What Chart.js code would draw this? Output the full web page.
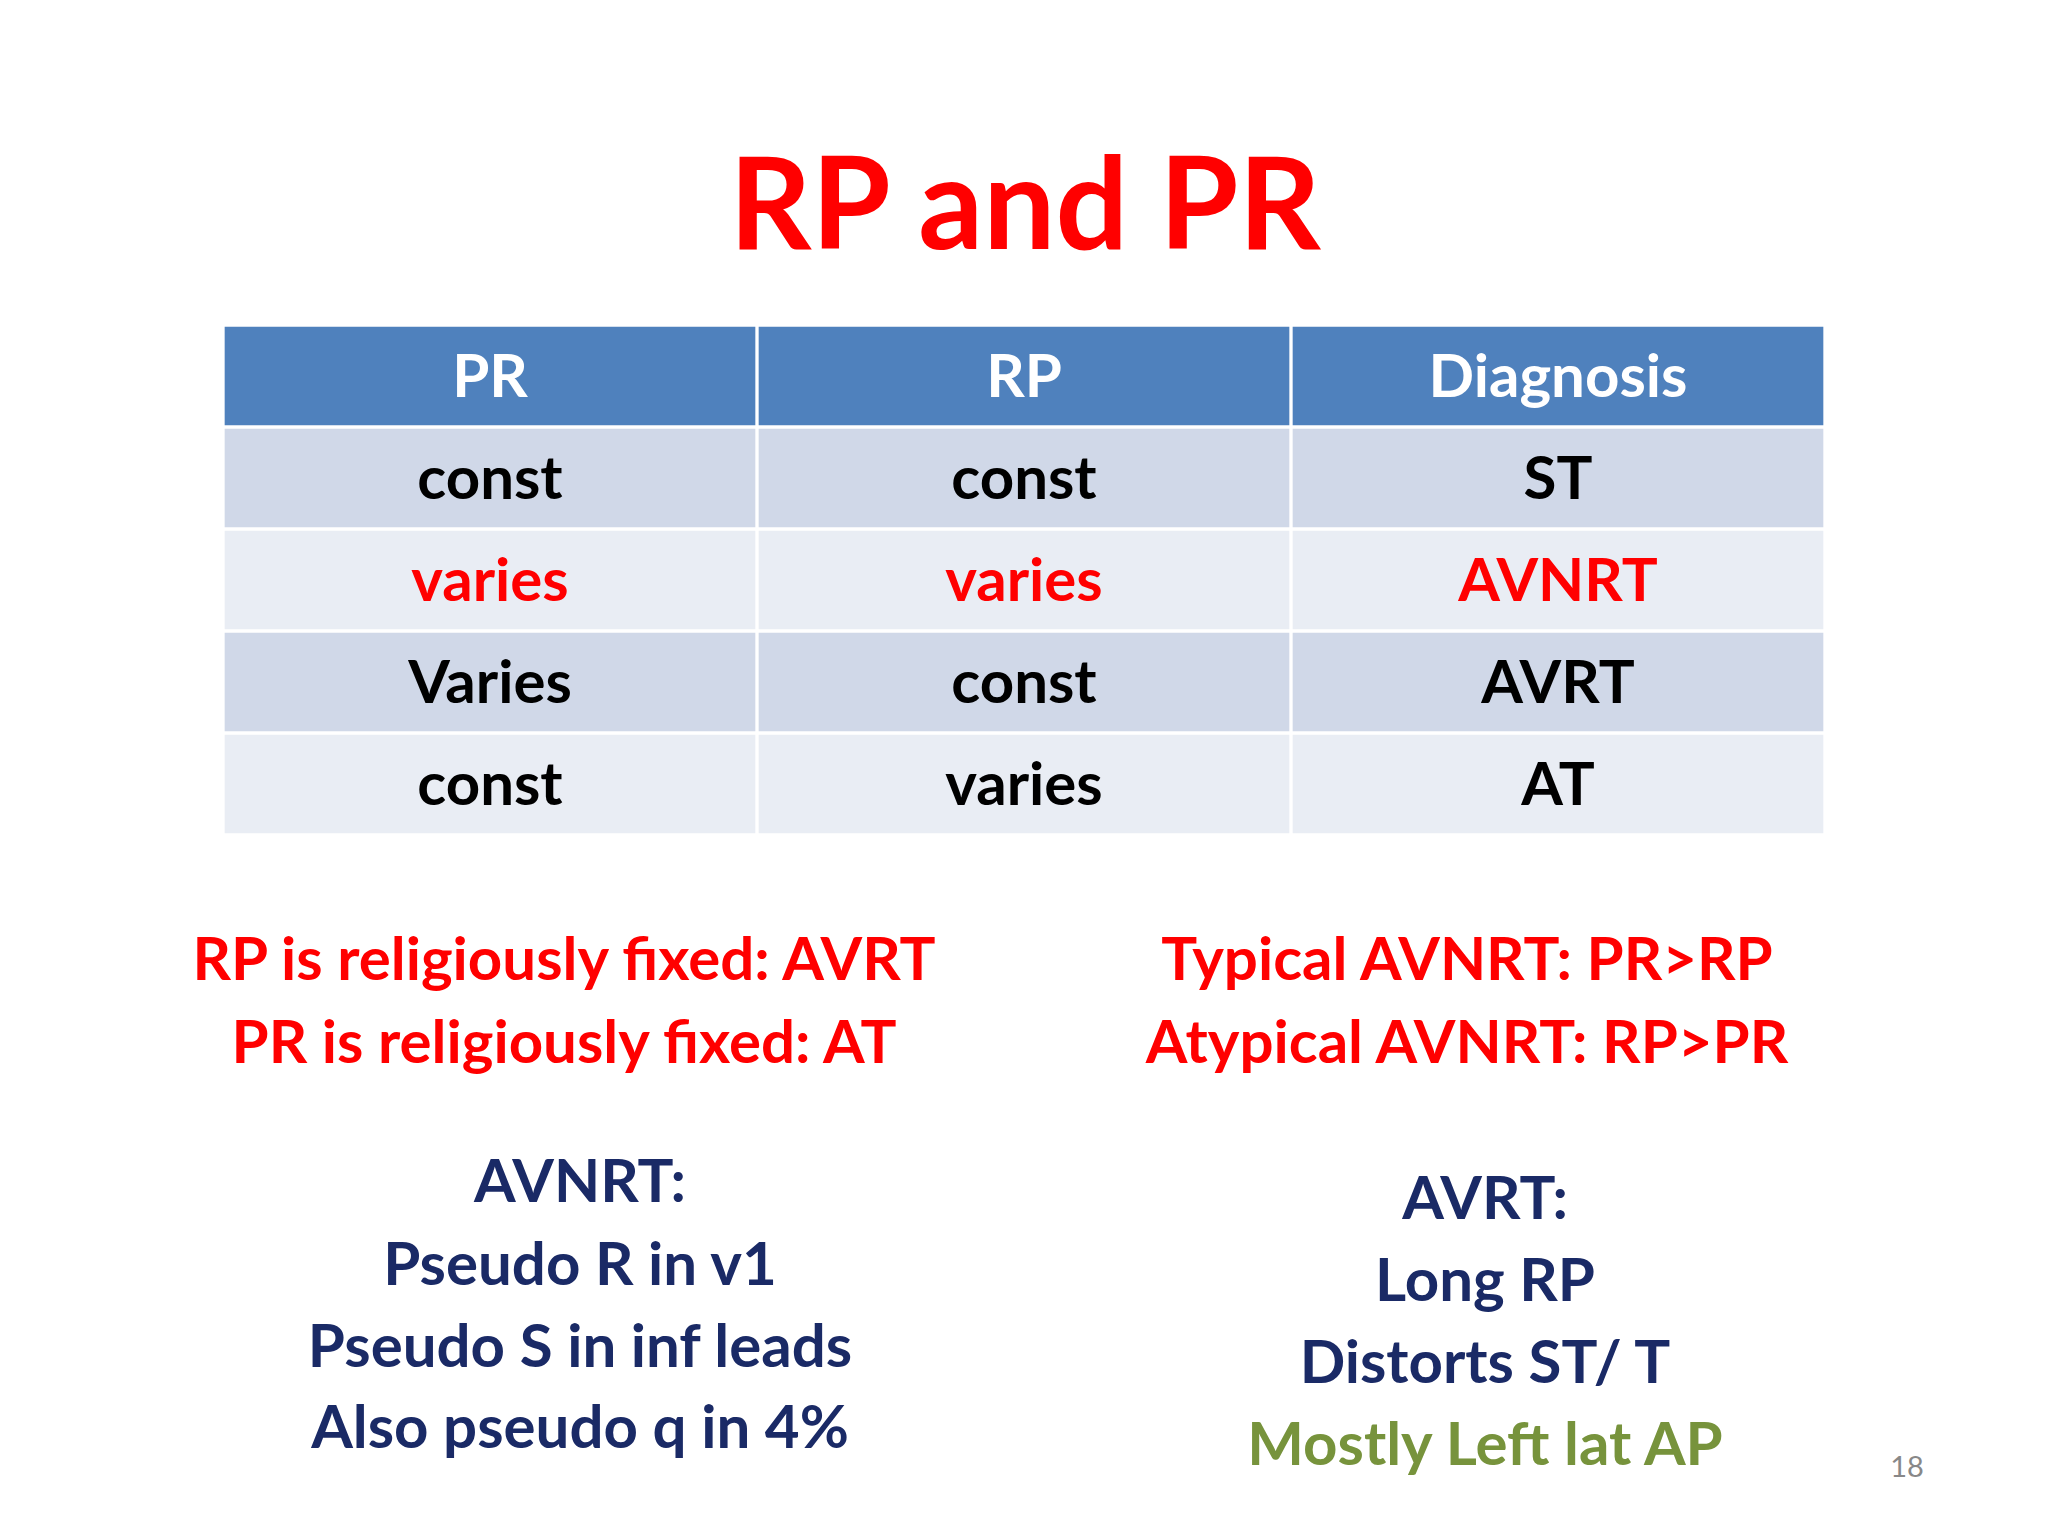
<!DOCTYPE html>
<html><head><meta charset="utf-8">
<script src="https://cdn.jsdelivr.net/npm/chart.js@4"></script>
<style>
html,body{margin:0;padding:0;background:#fff;}
body{width:2048px;height:1536px;position:relative;overflow:hidden;font-family:Lato,"Open Sans",sans-serif;font-weight:bold;}
.t{position:absolute;white-space:nowrap;transform:translate(-50%,-50%);line-height:1;}
#title{left:1025px;top:200px;font-size:128px;color:#ff0000;}
.red{color:#ff0000;font-size:60px;}
.navy{color:#1a2a66;font-size:60px;}
.green{color:#77933c;font-size:60px;}
#pg{left:1907px;top:1465px;font-size:29px;color:#888;font-weight:normal;}
#wrap{position:absolute;left:223px;top:325px;width:1602px;height:510px;}
</style></head><body>
<div class="t" id="title">RP and PR</div>
<div id="wrap"><canvas id="c"></canvas></div>
<div class="t red" style="left:564px;top:957px">RP is religiously fixed: AVRT</div>
<div class="t red" style="left:564px;top:1040px">PR is religiously fixed: AT</div>
<div class="t red" style="left:1467px;top:957px">Typical AVNRT: PR&gt;RP</div>
<div class="t red" style="left:1467px;top:1040px">Atypical AVNRT: RP&gt;PR</div>
<div class="t navy" style="left:580px;top:1179px">AVNRT:</div>
<div class="t navy" style="left:580px;top:1262px">Pseudo R in v1</div>
<div class="t navy" style="left:580px;top:1344px">Pseudo S in inf leads</div>
<div class="t navy" style="left:580px;top:1425px">Also pseudo q in 4%</div>
<div class="t navy" style="left:1485px;top:1196px">AVRT:</div>
<div class="t navy" style="left:1485px;top:1278px">Long RP</div>
<div class="t navy" style="left:1485px;top:1360px">Distorts ST/ T</div>
<div class="t green" style="left:1485px;top:1442px">Mostly Left lat AP</div>
<div class="t" id="pg">18</div>
<script>
const headers = ["PR","RP","Diagnosis"];
const rowsPR = ["const","varies","Varies","const"];
const rowsRP = ["const","varies","const","varies"];
const rowsDx = ["ST","AVNRT","AVRT","AT"];
const redRows = [1];
const rowLabels = ["header","r1","r2","r3","r4"];
const cellUnits = [1,1,1,1,1];
const colText = [
  [headers[0], ...rowsPR],
  [headers[1], ...rowsRP],
  [headers[2], ...rowsDx]
];
const rowColors = ["#4f81bd","#d0d8e8","#e9edf4","#d0d8e8","#e9edf4"];
const textPlugin = {
  id:'cellText',
  afterDatasetsDraw(chart){
    const ctx = chart.ctx;
    ctx.save();
    ctx.textAlign='center'; ctx.textBaseline='middle';
    chart.data.datasets.forEach((ds,di)=>{
      chart.getDatasetMeta(di).data.forEach((bar,ri)=>{
        const p = bar.getProps(['x','y','base'],true);
        const cx = (p.x+p.base)/2;
        ctx.font = 'bold 60px Lato, "Open Sans", sans-serif';
        ctx.fillStyle = ri===0 ? '#ffffff' : (redRows.includes(ri-1) ? '#ff0000' : '#000000');
        ctx.fillText(colText[di][ri], cx, p.y+2);
      });
    });
    ctx.restore();
  }
};
document.fonts.load('bold 60px Lato').then(()=>{
new Chart(document.getElementById('c'),{
  type:'bar',
  data:{labels:rowLabels,datasets:headers.map((h,i)=>({label:h,data:cellUnits,backgroundColor:rowColors,borderColor:'#ffffff',borderWidth:2,borderSkipped:false,barPercentage:1,categoryPercentage:1}))},
  options:{indexAxis:'y',responsive:true,maintainAspectRatio:false,animation:false,
    layout:{padding:0},
    plugins:{legend:{display:false},tooltip:{enabled:false}},
    scales:{x:{stacked:true,min:0,max:3,display:false},y:{stacked:true,display:false}}},
  plugins:[textPlugin]
});
});
</script>
</body></html>
